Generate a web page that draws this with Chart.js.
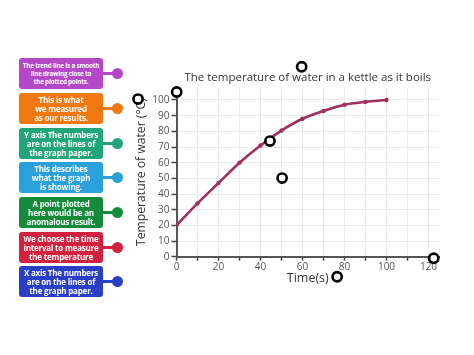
<!DOCTYPE html>
<html><head><meta charset="utf-8">
<script src="https://cdn.jsdelivr.net/npm/chart.js@4/dist/chart.umd.min.js"></script>
<style>
html,body{margin:0;padding:0;background:#fff;width:474px;height:355px;overflow:hidden;}
#wrap{position:absolute;left:0;top:0;width:474px;height:355px;}
canvas{position:absolute;left:0;top:0;}
.lab{position:absolute;left:19px;width:84px;height:31px;border-radius:3px;color:#fff;font-family:"Open Sans",sans-serif;font-weight:700;text-align:center;display:flex;align-items:center;justify-content:center;font-size:8px;line-height:9.3px;letter-spacing:-0.2px;white-space:nowrap;z-index:2;}
.lab.small{font-size:6.2px;line-height:8px;letter-spacing:-0.15px;}
.con{position:absolute;left:103px;width:12px;height:3px;z-index:2;}
.dot{position:absolute;left:112px;width:11px;height:11px;border-radius:50%;z-index:2;}
</style></head>
<body><div id="wrap"><canvas id="c" width="474" height="355"></canvas></div>
<script>
// ---- data ----
const timeSeconds = [0, 10, 20, 30, 40, 50, 60, 70, 80, 90, 100];
const temperatureC = [20, 34, 47, 60, 71, 80.5, 88, 93, 97, 98.8, 100];
const xTickValues = [0, 10, 20, 30, 40, 50, 60, 70, 80, 90, 100, 110, 120];
const yTickValues = [0, 10, 20, 30, 40, 50, 60, 70, 80, 90, 100];
// drop-target markers (in chart data units)
const markerX = [-18.3, 0.1, 59.6, 44.5, 50.3, 76.5, 122.5];
const markerY = [100.6, 105.1, 121.2, 73.8, 50.2, -12.8, -1.0];
const labelTexts = [
  ["The trend line is a smooth", "line drawing close to", "the plotted points."],
  ["This is what", "we measured", "as our results."],
  ["Y axis The numbers", "are on the lines of", "the graph paper."],
  ["This describes", "what the graph", "is showing."],
  ["A point plotted", "here would be an", "anomalous result."],
  ["We choose the time", "interval to measure", "the temperature"],
  ["X axis The numbers", "are on the lines of", "the graph paper."]
];
const labelColors = ["#b448c6", "#f0780f", "#21a57b", "#2aa1dc", "#158a3b", "#d3203f", "#2b3ec6"];

// ---- labels ----
const wrap = document.getElementById('wrap');
const tops = [58, 93, 128, 162, 197, 232, 266];
labelTexts.forEach((lines, i) => {
  const d = document.createElement('div');
  d.className = 'lab' + (i === 0 ? ' small' : '');
  d.style.top = tops[i] + 'px';
  d.style.background = labelColors[i];
  d.innerHTML = '<div>' + lines.join('<br>') + '</div>';
  wrap.appendChild(d);
  const c = document.createElement('div');
  c.className = 'con'; c.style.top = (tops[i] + 14) + 'px'; c.style.background = labelColors[i];
  wrap.appendChild(c);
  const o = document.createElement('div');
  o.className = 'dot'; o.style.top = (tops[i] + 10) + 'px'; o.style.background = labelColors[i];
  wrap.appendChild(o);
});

// draws the open-circle markers through the chart's own scales (may lie outside the plot area)
const markerPlugin = {
  id: 'markers',
  afterDraw(chart) {
    const {ctx, scales: {x, y}} = chart;
    ctx.save();
    ctx.lineWidth = 2.6; ctx.strokeStyle = '#000'; ctx.fillStyle = '#fff';
    markerX.forEach((mx, i) => {
      const px = x.getPixelForValue(mx), py = y.getPixelForValue(markerY[i]);
      ctx.beginPath(); ctx.arc(px, py, 4.6, 0, Math.PI * 2); ctx.fill(); ctx.stroke();
    });
    ctx.restore();
  }
};

// ---- chart ----
new Chart(document.getElementById('c'), {
  type: 'line',
  data: {
    datasets: [
      {
        data: timeSeconds.map((x, i) => ({x, y: temperatureC[i]})),
        borderColor: '#a12f60', backgroundColor: '#a12f60',
        borderWidth: 2.6, pointRadius: 2.2, pointBorderWidth: 0,
        pointBackgroundColor: '#a12f60', tension: 0.3
      }
    ]
  },
  plugins: [markerPlugin],
  options: {
    responsive: false, animation: false,
    layout: { padding: { left: 134, right: 35, top: 62, bottom: 69.5 } },
    plugins: {
      legend: { display: false }, tooltip: { enabled: false },
      title: {
        display: true, fullSize: false,
        text: 'The temperature of water in a kettle as it boils',
        color: '#333', font: { family: 'Open Sans', size: 11.5, weight: 'normal', lineHeight: 1.3 },
        padding: { top: 8, bottom: 2.5 }
      }
    },
    scales: {
      x: {
        type: 'linear', min: 0, max: 125,
        afterFit: s => { s.height = 28.8; },
        afterBuildTicks: s => { s.ticks = xTickValues.map(v => ({value: v})); },
        ticks: { autoSkip: false, maxRotation: 0, padding: 0, color: '#555',
          font: { family: 'Open Sans', size: 10 },
          callback: v => (v % 20 === 0 ? String(v) : '') },
        grid: { color: '#ebebeb', tickColor: '#444', tickLength: 4, lineWidth: 1, tickWidth: 1.5 },
        border: { color: '#555', width: 2 },
        title: { display: true, text: 'Time(s)', color: '#333', padding: 0,
          font: { family: 'Open Sans', size: 12.5, lineHeight: 1.2 } }
      },
      y: {
        type: 'linear', min: 0, max: 108,
        afterFit: s => { s.width = 42.5; },
        afterBuildTicks: s => { s.ticks = yTickValues.map(v => ({value: v})); },
        ticks: { autoSkip: false, padding: 2, color: '#555',
          font: { family: 'Open Sans', size: 10 } },
        grid: { color: '#ebebeb', tickColor: '#444', tickLength: 5, lineWidth: 1, tickWidth: 1.5 },
        border: { color: '#555', width: 2 },
        title: { display: true, text: 'Temperature of water (°C)', color: '#333', padding: 0,
          font: { family: 'Open Sans', size: 12.2, lineHeight: 1.2 } }
      }
    }
  }
});
</script></body></html>
